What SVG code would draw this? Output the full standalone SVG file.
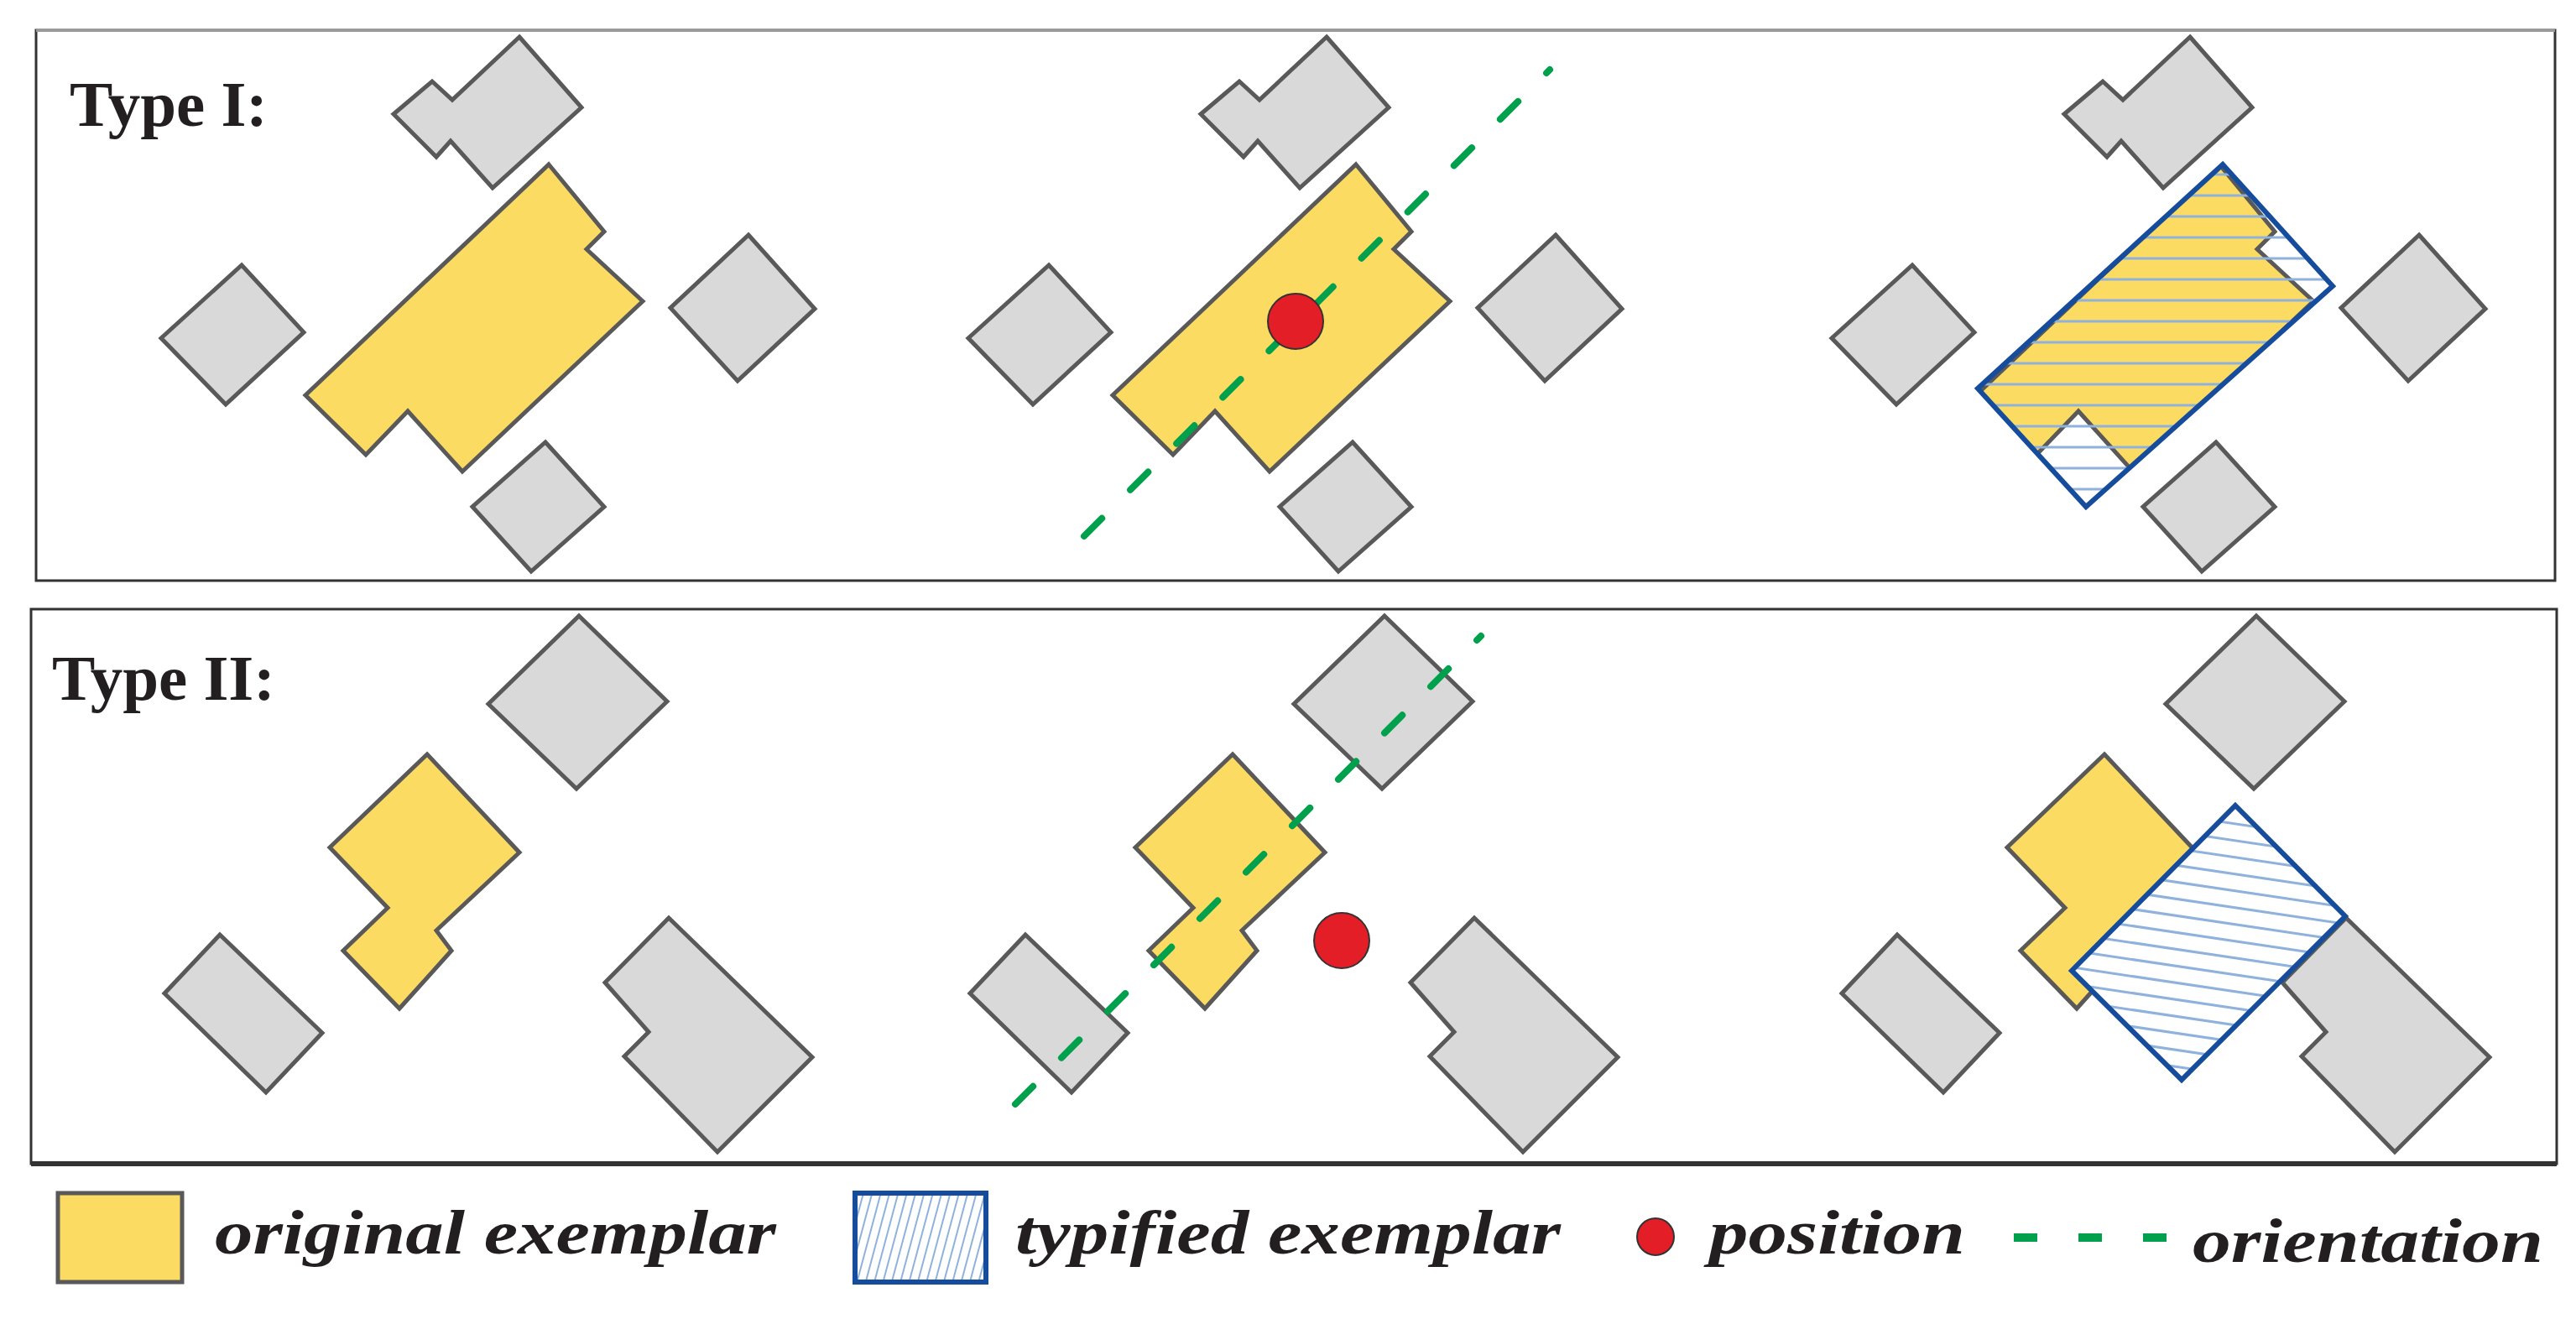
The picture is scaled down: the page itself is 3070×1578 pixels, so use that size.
<svg xmlns="http://www.w3.org/2000/svg" xmlns:xlink="http://www.w3.org/1999/xlink" width="3070" height="1578" viewBox="0 0 3070 1578">
<style>
.g{fill:#d9d9d9;stroke:#595959;stroke-width:5;stroke-linejoin:miter}
.y{fill:#fcdb62;stroke:#595959;stroke-width:5}
.b{fill:none;stroke:#164c9c;stroke-width:6}
.w{fill:#fff;stroke:none}
.h{stroke:#8fb2dd;stroke-width:3}
.o{fill:none;stroke:#00a04c;stroke-width:8;stroke-linecap:round;stroke-dasharray:30 48}
.r{fill:#e31e26;stroke:#333;stroke-width:2}
.t{font-family:"Liberation Serif",serif;font-weight:bold;font-size:77px;fill:#231f20}
.l{font-family:"Liberation Serif",serif;font-weight:bold;font-style:italic;font-size:74px;fill:#231f20}
</style>
<defs>
<polygon id="a1" points="619,44 693,128 587,224 537,168 520,187 469,136 515,97 539,119"/>
<polygon id="ay" points="654,196 720,276 699,297 766,359 551,562 486,490 436,542 364,471"/>
<polygon id="a2" points="288,316 362,396 269,482 192,403"/>
<polygon id="a3" points="892,280 971,368 879,454 799,367"/>
<polygon id="a4" points="650,527 720,604 633,681 563,604"/>
<polygon id="b1" points="690,734 795,836 687,940 582,839"/>
<polygon id="by" points="509,899 619,1016 520,1109 538,1133 476,1202 409,1133 462,1082 393,1010"/>
<polygon id="b2" points="262,1114 384,1231 317,1302 196,1184"/>
<polygon id="b3" points="797,1094 968,1260 855,1373 744,1259 773,1230 721,1171"/>
<clipPath id="c1"><polygon points="2649,196 2780,341 2486,604 2357,463"/></clipPath>
<clipPath id="c2"><polygon points="2664,960 2795,1092 2600,1287 2469,1157"/></clipPath>
<pattern id="lp" width="10" height="10" patternUnits="userSpaceOnUse" patternTransform="rotate(15)"><line x1="2" y1="0" x2="2" y2="10" stroke="#8fb2dd" stroke-width="2"/></pattern>
</defs>
<rect width="3070" height="1578" fill="#fff"/>
<g id="panel1">
<rect x="43" y="36" width="3002" height="656" fill="#fff" stroke="#333" stroke-width="3"/>
<line x1="43" y1="36" x2="3045" y2="36" stroke="#9a9a9a" stroke-width="4"/>
<text class="t" x="83" y="150">Type I:</text>
</g>
<g id="panel2">
<rect x="37" y="726" width="3010" height="661" fill="#fff" stroke="#333" stroke-width="3"/>
<line x1="37" y1="1387" x2="3047" y2="1387" stroke="#333" stroke-width="6"/>
<text class="t" x="62" y="834">Type II:</text>
</g>
<g id="p1c1">
<use href="#a1" class="g"/><use href="#a2" class="g"/><use href="#a3" class="g"/><use href="#a4" class="g"/><use href="#ay" class="y"/>
</g>
<g id="p1c2" transform="translate(962,0)">
<use href="#a1" class="g"/><use href="#a2" class="g"/><use href="#a3" class="g"/><use href="#a4" class="g"/><use href="#ay" class="y"/>
</g>
<g id="p1c3">
<g transform="translate(1991,0)"><use href="#a1" class="g"/><use href="#a2" class="g"/><use href="#a3" class="g"/><use href="#a4" class="g"/></g>
<polygon class="w" points="2649,196 2780,341 2486,604 2357,463"/>
<g clip-path="url(#c1)">
<g transform="translate(1991,0)"><use href="#ay" class="y"/></g>
<line class="h" x1="2340" y1="208" x2="2800" y2="208"/><line class="h" x1="2340" y1="233" x2="2800" y2="233"/><line class="h" x1="2340" y1="258" x2="2800" y2="258"/><line class="h" x1="2340" y1="283" x2="2800" y2="283"/><line class="h" x1="2340" y1="308" x2="2800" y2="308"/><line class="h" x1="2340" y1="333" x2="2800" y2="333"/><line class="h" x1="2340" y1="358" x2="2800" y2="358"/><line class="h" x1="2340" y1="383" x2="2800" y2="383"/><line class="h" x1="2340" y1="408" x2="2800" y2="408"/><line class="h" x1="2340" y1="433" x2="2800" y2="433"/><line class="h" x1="2340" y1="458" x2="2800" y2="458"/><line class="h" x1="2340" y1="483" x2="2800" y2="483"/><line class="h" x1="2340" y1="508" x2="2800" y2="508"/><line class="h" x1="2340" y1="533" x2="2800" y2="533"/><line class="h" x1="2340" y1="558" x2="2800" y2="558"/><line class="h" x1="2340" y1="583" x2="2800" y2="583"/>
</g>
<polygon class="b" points="2649,196 2780,341 2486,604 2357,463"/>
</g>
<g id="p2c1">
<use href="#b1" class="g"/><use href="#b2" class="g"/><use href="#b3" class="g"/><use href="#by" class="y"/>
</g>
<g id="p2c2" transform="translate(960,0)">
<use href="#b1" class="g"/><use href="#b2" class="g"/><use href="#b3" class="g"/><use href="#by" class="y"/>
</g>
<g id="p2c3">
<g transform="translate(1999,0)"><use href="#b1" class="g"/><use href="#b2" class="g"/><use href="#b3" class="g"/><use href="#by" class="y"/></g>
<polygon class="w" points="2664,960 2795,1092 2600,1287 2469,1157"/>
<g clip-path="url(#c2)">
<line class="h" x1="2450" y1="930" x2="2820" y2="985"/><line class="h" x1="2450" y1="950" x2="2820" y2="1005"/><line class="h" x1="2450" y1="970" x2="2820" y2="1025"/><line class="h" x1="2450" y1="990" x2="2820" y2="1045"/><line class="h" x1="2450" y1="1010" x2="2820" y2="1065"/><line class="h" x1="2450" y1="1030" x2="2820" y2="1085"/><line class="h" x1="2450" y1="1050" x2="2820" y2="1105"/><line class="h" x1="2450" y1="1070" x2="2820" y2="1125"/><line class="h" x1="2450" y1="1090" x2="2820" y2="1145"/><line class="h" x1="2450" y1="1110" x2="2820" y2="1165"/><line class="h" x1="2450" y1="1130" x2="2820" y2="1185"/><line class="h" x1="2450" y1="1150" x2="2820" y2="1205"/><line class="h" x1="2450" y1="1170" x2="2820" y2="1225"/><line class="h" x1="2450" y1="1190" x2="2820" y2="1245"/><line class="h" x1="2450" y1="1210" x2="2820" y2="1265"/><line class="h" x1="2450" y1="1230" x2="2820" y2="1285"/><line class="h" x1="2450" y1="1250" x2="2820" y2="1305"/>
</g>
<polygon class="b" points="2664,960 2795,1092 2600,1287 2469,1157"/>
</g>
<g id="connectors">
<line class="o" x1="1292" y1="639" x2="1847" y2="83"/>
<circle id="pos1" class="r" cx="1544" cy="383" r="33"/>
<line class="o" x1="1210" y1="1316" x2="1765" y2="758"/>
<circle id="pos2" class="r" cx="1599" cy="1121" r="33"/>
</g>
<g id="legend">
<rect x="69" y="1422" width="148" height="106" fill="#fcdb62" stroke="#595959" stroke-width="5"/>
<text class="l" x="256" y="1494" textLength="669" lengthAdjust="spacingAndGlyphs">original exemplar</text>
<rect x="1019" y="1422" width="156" height="106" fill="url(#lp)" stroke="#164c9c" stroke-width="6"/>
<text class="l" x="1210" y="1494" textLength="650" lengthAdjust="spacingAndGlyphs">typified exemplar</text>
<circle class="r" cx="1973" cy="1474" r="22"/>
<text class="l" x="2037" y="1494" textLength="305" lengthAdjust="spacingAndGlyphs">position</text>
<line x1="2400" y1="1475" x2="2582" y2="1475" stroke="#00a04c" stroke-width="10" stroke-dasharray="28 49"/>
<text class="l" x="2613" y="1504" textLength="418" lengthAdjust="spacingAndGlyphs">orientation</text>
</g>
</svg>
